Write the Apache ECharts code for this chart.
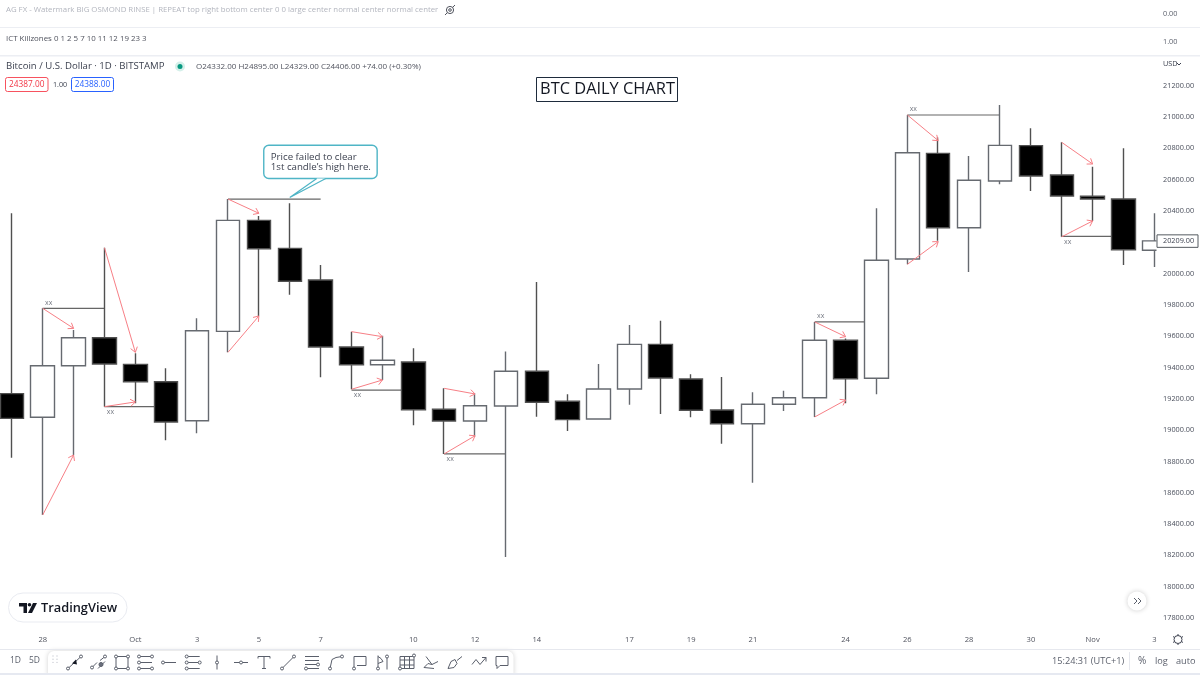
<!DOCTYPE html>
<html>
<head>
<meta charset="utf-8">
<style>html,body{margin:0;padding:0;background:#fff}#chart{width:1200px;height:675px}</style>
<script src="https://cdn.jsdelivr.net/npm/echarts@6/dist/echarts.min.js"></script>
</head>
<body>
<div id="chart"></div>
<script>
const dates = ['Sep 27','Sep 28','Sep 29','Sep 30','Oct 1','Oct 2','Oct 3','Oct 4','Oct 5','Oct 6','Oct 7','Oct 8','Oct 9','Oct 10','Oct 11','Oct 12','Oct 13','Oct 14','Oct 15','Oct 16','Oct 17','Oct 18','Oct 19','Oct 20','Oct 21','Oct 22','Oct 23','Oct 24','Oct 25','Oct 26','Oct 27','Oct 28','Oct 29','Oct 30','Oct 31','Nov 1','Nov 2','Nov 3'];
const dayLabels = ['','28','','','Oct','','3','','5','','7','','','10','','12','','14','','','17','','19','','21','','','24','','26','','28','','30','','Nov','','3'];
const opens  = [19233,19082,19411,19590,19420,19309,19060,19631,20340,20161,19959,19531,19418,19435,19133,19058,19154,19376,19184,19071,19263,19548,19327,19129,19041,19165,19207,19574,19331,20093,20768,20293,20591,20817,20630,20494,20476,20149];
const closes = [19075,19411,19590,19422,19309,19052,19635,20340,20159,19951,19531,19418,19446,19130,19058,19156,19376,19178,19067,19263,19548,19333,19127,19041,19165,19207,19574,19328,20085,20772,20293,20596,20819,20623,20495,20476,20152,20209];
const lows   = [18824,18458,18841,19150,19171,18935,18980,19497,19729,19865,19337,19261,19320,19031,18848,18958,18190,19086,18994,19071,19162,19103,19082,18913,18664,19122,19084,19171,19229,20059,20210,20010,20570,20527,20235,20336,20055,20042];
const highs  = [20385,19778,19640,20165,19491,19395,19714,20476,20368,20449,20055,19629,19603,19523,19267,19235,19503,19946,19229,19422,19671,19699,19357,19339,19242,19252,19691,19586,20417,21013,20870,20751,21077,20928,20838,20683,20800,20385];
// [from index, from price, to index, to price]
const levelLines = [[1,19778,3,19778],[3,19150,5,19150],[7,20476,10,20476],[11,19255,13,19255],[14,18848,16,18848],[26,19691,28,19691],[29,21013,32,21013],[34,20238,36,20238]];
const arrows = [[1,18458,2,18841],[1,19778,2,19650],[3,20165,4,19497],[3,19150,4,19180],[7,20476,8,20385],[7,19497,8,19729],[11,19629,12,19597],[11,19261,12,19320],[14,19267,15,19231],[14,18848,15,18964],[26,19691,27,19597],[26,19084,27,19192],[29,21013,30,20849],[29,20059,30,20204],[34,20838,35,20700],[34,20235,35,20336]];
// [index, price, side: 1 above / -1 below]
const xxMarks = [[1,19778,1],[3,19150,-1],[11,19261,-1],[14,18848,-1],[26,19691,1],[29,21013,1],[34,20238,-1]];
const calloutPoint = [[9,20476]];
const calloutLines = ['Price failed to clear','1st candle\u2019s high here.'];
const lastPrice = [[37,20209]];
const priceMin = 17800, priceMax = 21200, priceStep = 200, hiddenTick = 20200;

const FONT = '"Open Sans", "Noto Sans", sans-serif';
const ink = '#5a5f6b';
const g = [];
function T(x,y,text,size,fill,extra){ g.push({type:'text',z:20,silent:true,style:Object.assign({x,y,text,fill,font:(extra&&extra.weight||'normal')+' '+size+'px '+FONT,textAlign:(extra&&extra.align)||'left',textVerticalAlign:'middle'})}); }
function R(x,y,w,h,fill,stroke,r,z,extra){ g.push(Object.assign({type:'rect',z:z==null?20:z,silent:true,shape:{x,y,width:w,height:h,r:r||0},style:{fill:fill||'none',stroke:stroke||'none',lineWidth:1}},extra||{})); }
function L(x1,y1,x2,y2,c,w){ g.push({type:'line',z:21,silent:true,shape:{x1,y1,x2,y2},style:{stroke:c||ink,lineWidth:w||1}}); }
function O(cx,cy,r,fill,stroke){ g.push({type:'circle',z:22,silent:true,shape:{cx,cy,r:r||1.5},style:{fill:fill||'#fff',stroke:stroke===undefined?ink:stroke,lineWidth:1}}); }
function P(points,fill,stroke,closed,z){ g.push({type:closed?'polygon':'polyline',z:z||21,silent:true,shape:{points},style:{fill:fill||'none',stroke:stroke===undefined?ink:stroke,lineWidth:1}}); }

// price scale column, masks the clipped last candle
R(1156.5,56,43.5,592,'#fff',null,0,3);
// panes
R(0,27,1200,1,'#eceef3'); R(0,55,1200,1.5,'#eceef3');
T(6,10,'AG FX - Watermark BIG OSMOND RINSE | REPEAT top right bottom center 0 0 large center normal center normal center',7.8,'#b2b5be');
T(6,38.5,'ICT Killzones 0 1 2 5 7 10 11 12 19 23 3',7.9,'#50535e');
T(6,66.5,'Bitcoin / U.S. Dollar \u00b7 1D \u00b7 BITSTAMP',9.6,'#3d4250');
O(180,66.5,5,'#d5f0ea',null); O(180,66.5,2.5,'#089981',null);
T(196,67,'O24332.00 H24895.00 L24329.00 C24406.00 +74.00 (+0.30%)',8,'#50535e');
R(5.5,77.5,42.5,14,'#fff','#f7525f',2); T(26.7,85,'24387.00',8.3,'#f23645',{align:'center'});
T(53,84.5,'1.00',7.2,'#3d4250');
R(71.5,77.5,42,14,'#fff','#2962ff',2); T(92.5,85,'24388.00',8.3,'#2962ff',{align:'center'});
// hidden-eye icon
O(450,10,3.6,'#fff','#50535e'); O(450,10,1.3,'#fff','#50535e'); L(445,15,455,5,'#50535e');
// title box
R(536.5,77.5,141,24,'#fff','#1e2b3c',0,5);
T(607.5,89.5,'BTC DAILY CHART',16.4,'#131722',{align:'center'});
// right-hand labels
T(1163,14,'0.00',7.3,ink); T(1163,42,'1.00',7.3,ink); T(1163,64,'USD',7.3,'#3d4250');
P([[1177,63],[1179,65],[1181,63]],null,'#3d4250',false,23);
// logo pill
R(8.5,593,118.5,29,'#fff','#e9ebf1',14.5,18);
P([[19,603],[27,603],[27,613],[23.5,613],[23.5,606.5],[19,606.5]],'#131722',null,true);
O(29.5,604.8,1.8,'#131722',null);
P([[33,603],[37,603],[32,613],[28,613]],'#131722',null,true);
T(41,608.5,'TradingView',12.8,'#131722',{weight:'600'});
// scroll button
g.push({type:'circle',z:18,silent:true,shape:{cx:1137,cy:601,r:9.5},style:{fill:'#fff',shadowBlur:5,shadowColor:'rgba(0,0,0,0.2)'}});
P([[1134,598],[1137,601],[1134,604]],null,ink,false,23); P([[1138,598],[1141,601],[1138,604]],null,ink,false,23);
// gear
O(1178,639.5,4,'#fff','#3d4250');
[[0,-5.5,0,-4],[0,4,0,5.5],[-5,-3,-3.5,-2],[3.5,2,5,3],[-5,3,-3.5,2],[3.5,-2,5,-3]].forEach(a=>L(1178+a[0],639.5+a[1],1178+a[2],639.5+a[3],'#3d4250'));
// bottom bar
R(0,649,1200,1,'#e6e8ee');
R(0,673,1200,2,'#e6e9f1');
T(10,661,'1D',8.5,ink); T(29,661,'5D',8.5,ink);
T(1052,661,'15:24:31 (UTC+1)',9.2,ink);
L(1129.5,652,1129.5,670,'#e6e8ee');
T(1138,661,'%',10,ink); T(1155,661,'log',9.2,ink); T(1176,661,'auto',9.2,ink);
R(48,651,465.5,28,'#fff',null,6,19,{style:{fill:'#fff',shadowBlur:5,shadowColor:'rgba(0,0,0,0.18)'}});
for(let i=0;i<3;i++){ O(53,656+i*3.2,.7,'#c9ccd4',null); O(57,656+i*3.2,.7,'#c9ccd4',null); }
const cy = 662.5;
// drawing tools
(function(){
  let c=75; L(c-7,cy+6,c+6,cy-6); O(c-7,cy+6); O(c+6,cy-6); P([[c-3,cy+1],[c+1,cy-3],[c+2,cy+2]],'#131722',null,true);
  c=99; L(c-7,cy+5,c-2,cy); L(c+1,cy-2,c+6,cy-6); L(c-1,cy+6,c+6,cy-1); O(c-7,cy+5); O(c+6,cy-6); O(c+2,cy+2,2,'#6a6f7c');
  c=122; R(c-6,cy-6,12,12,'#fff',ink,0,21); [[-6,-6],[6,-6],[-6,6],[6,6]].forEach(a=>O(c+a[0],cy+a[1]));
  c=145; [-6,0,6].forEach((d,k)=>{L(c-5,cy+d,c+7,cy+d); O(c-6,cy+d); if(k!=1)O(c+7,cy+d);});
  c=169; L(c-6,cy,c+7,cy); O(c-6,cy);
  c=192.7; [-6,0,6].forEach(d=>{L(c-6,cy+d,c+7,cy+d); O(c-6,cy+d);}); O(c+7,cy);
  c=217; L(c,cy-7,c,cy+7); O(c,cy);
  c=241; L(c-7,cy,c+7,cy); O(c,cy);
  c=264; L(c-6,cy-6,c+6,cy-6); L(c,cy-6,c,cy+6); L(c-2,cy+6,c+2,cy+6); L(c-6,cy-6,c-6,cy-4); L(c+6,cy-6,c+6,cy-4);
  c=288; L(c-6,cy+6,c+6,cy-6); O(c-6,cy+6); O(c+6,cy-6);
  c=312; L(c-7,cy-6,c+7,cy-6); L(c-7,cy-2,c+7,cy-2); L(c-7,cy+2,c+6,cy+2); L(c-5,cy+6,c+7,cy+6); O(c+6,cy+2); O(c-6,cy+6);
  c=336; P([[c-6,cy+6],[c-4,cy-3],[c,cy-5],[c+6,cy-6]]); O(c-6,cy+6); O(c+6,cy-6);
  c=360; P([[c-6,cy+6],[c-6,cy-6],[c+6,cy-6],[c+6,cy+3],[c-3,cy+3]]); O(c-6,cy+6);
  c=383; L(c-5,cy-7,c-5,cy+7); P([[c-5,cy-6],[c-2,cy-4],[c,cy-1],[c-5,cy+1]]); O(c-5,cy+6); L(c+4,cy-5,c+4,cy+7); O(c+4,cy-6);
  c=407; R(c-7,cy-6,14,12,'none',ink,0,21); [-2.5,2.5].forEach(d=>L(c-7,cy+d,c+7,cy+d)); [-2.5,2.5].forEach(d=>L(c+d,cy-6,c+d,cy+6)); O(c-7,cy+6); O(c+7,cy-7);
  c=431; P([[c-5,cy-6],[c+1,cy+2]]); P([[c+7,cy-1],[c+1,cy+2],[c-3,cy+1],[c-7,cy+5],[c+3,cy+6]]);
  c=455; P([[c-7,cy+6],[c-4,cy-1],[c,cy-3],[c+2,cy+1],[c-1,cy+5],[c-7,cy+6]]); P([[c+2,cy-2],[c+7,cy-6]]);
  c=479; P([[c-7,cy+2],[c-3,cy-3],[c+1,cy+2],[c+7,cy-5]]); P([[c+3,cy-5],[c+7,cy-5],[c+7,cy-1]]);
  c=502; P([[c-5,cy+6],[c-5,cy+3],[c-6,cy+3],[c-6,cy-6],[c+6,cy-6],[c+6,cy+3],[c-2,cy+3],[c-5,cy+6]]);
})();

const chart = echarts.init(document.getElementById('chart'), null, {renderer:'canvas'});
const axisColor = '#4a4f5c';
chart.setOption({
  animation:false,
  backgroundColor:'#fff',
  grid:{left:-3.6,width:1173.44,top:85.7,height:532.3,containLabel:false,outerBoundsMode:'none'},
  xAxis:{type:'category',data:dates,boundaryGap:true,axisLine:{show:false},axisTick:{show:false},splitLine:{show:false},
    axisLabel:{interval:0,margin:22,color:'#50535e',fontSize:7.6,fontFamily:FONT,hideOverlap:false,verticalAlign:'middle',formatter:(v,i)=>dayLabels[i]}},
  yAxis:{type:'value',position:'right',offset:-6.8,min:priceMin,max:priceMax,interval:priceStep,z:10,scale:true,axisLine:{show:false},axisTick:{show:false},splitLine:{show:false},
    axisLabel:{inside:false,margin:0,align:'left',color:axisColor,fontSize:7.3,fontFamily:FONT,showMinLabel:true,showMaxLabel:true,formatter:v=>v===hiddenTick?'':v.toFixed(2)}},
  graphic:{elements:g},
  series:[
    {type:'candlestick',name:'BTCUSD',z:2,barWidth:24,clip:true,silent:true,
     data:dates.map((d,i)=>[opens[i],closes[i],lows[i],highs[i]]),
     itemStyle:{color:'#ffffff',color0:'#000000',borderColor:'#666a70',borderColor0:'#505050',borderWidth:1.4}},
    {type:'custom',name:'levels',z:1,silent:true,encode:{x:0,y:1},data:levelLines,
     renderItem:(p,api)=>{const a=api.coord([api.value(0),api.value(1)]),b=api.coord([api.value(2),api.value(3)]);
       return {type:'line',shape:{x1:a[0],y1:a[1],x2:b[0],y2:b[1]},style:{stroke:'#666',lineWidth:1.2}};}},
    {type:'custom',name:'arrows',z:5,silent:true,encode:{x:0,y:1},data:arrows,
     renderItem:(p,api)=>{const a=api.coord([api.value(0),api.value(1)]),b=api.coord([api.value(2),api.value(3)]);
       const t=Math.atan2(b[1]-a[1],b[0]-a[0]),h=6,s=0.62,st={stroke:'#f77f86',lineWidth:1,fill:'none'};
       return {type:'group',children:[
         {type:'line',shape:{x1:a[0],y1:a[1],x2:b[0],y2:b[1]},style:st},
         {type:'polyline',shape:{points:[[b[0]-h*Math.cos(t-s),b[1]-h*Math.sin(t-s)],b,[b[0]-h*Math.cos(t+s),b[1]-h*Math.sin(t+s)]]},style:st}]};}},
    {type:'custom',name:'xx',z:6,silent:true,encode:{x:0,y:1},data:xxMarks,
     renderItem:(p,api)=>{const a=api.coord([api.value(0),api.value(1)]),side=api.value(2);
       return {type:'text',style:{x:a[0]+6,y:a[1]-side*5.5,text:'xx',fill:'#777b85',font:'7px '+FONT,textAlign:'center',textVerticalAlign:'middle'}};}},
    {type:'custom',name:'callout',z:7,silent:true,encode:{x:0,y:1},data:calloutPoint,
     renderItem:(p,api)=>{const a=api.coord([api.value(0),api.value(1)]),tx=a[0],ty=a[1]-1.5,teal='#4fb5c6';
       return {type:'group',children:[
         {type:'rect',shape:{x:tx-26,y:ty-52.3,width:113.4,height:33.3,r:5},style:{fill:'#fff',stroke:teal,lineWidth:1.4}},
         {type:'polygon',shape:{points:[[tx,ty],[tx+27,ty-19],[tx+36,ty-19]]},style:{fill:'#fff',stroke:'none'}},
         {type:'polyline',shape:{points:[[tx+27,ty-19],[tx,ty],[tx+36,ty-19]]},style:{fill:'none',stroke:teal,lineWidth:1.2}},
         {type:'text',style:{x:tx-19,y:ty-40.7,text:calloutLines[0],fill:'#3d4250',font:'9.7px '+FONT,textVerticalAlign:'middle'}},
         {type:'text',style:{x:tx-19,y:ty-30.7,text:calloutLines[1],fill:'#3d4250',font:'9.7px '+FONT,textVerticalAlign:'middle'}}]};}},
    {type:'custom',name:'last price',z:12,silent:true,clip:false,encode:{x:0,y:1},data:lastPrice,
     renderItem:(p,api)=>{const a=api.coord([api.value(0),api.value(1)]);
       return {type:'group',children:[
         {type:'rect',shape:{x:1157,y:a[1]-6,width:41,height:12.5},style:{fill:'#fff',stroke:'#555a60',lineWidth:1}},
         {type:'text',style:{x:1163,y:a[1]+0.3,text:api.value(1).toFixed(2),fill:'#3d4250',font:'7.3px '+FONT,textVerticalAlign:'middle'}}]};}}
  ]
});
</script>
</body>
</html>
